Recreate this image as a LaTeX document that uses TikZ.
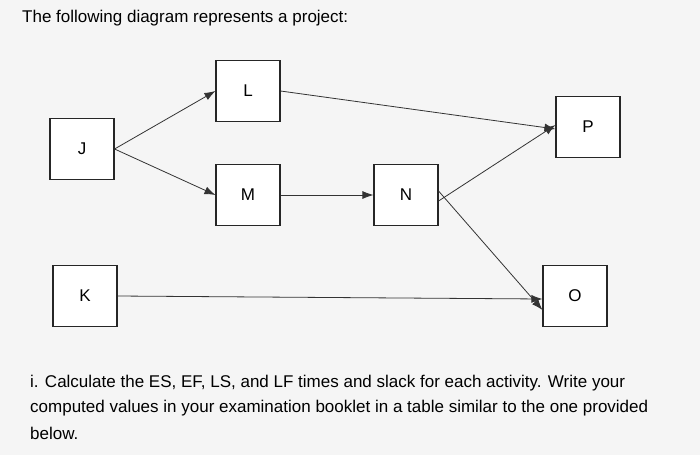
\documentclass[tikz,border=0pt]{standalone}
\usepackage{fontspec}
\setmainfont{Liberation Sans}
\usetikzlibrary{arrows.meta, positioning}
\tikzset{
  act/.style={draw=black!85, line width=1.1pt, fill=white, minimum width=64pt, minimum height=61pt, font=\fontsize{17}{20}\selectfont},
  link/.style={-{Latex[length=11pt,width=8pt]}, line width=0.8pt, draw=black!80},
  txt/.style={anchor=west, font=\fontsize{17}{20}\selectfont, inner sep=0pt}
}
\begin{document}
\begin{tikzpicture}[x=1pt,y=-1pt]
\fill[black!4] (0,0) rectangle (700,455);
\useasboundingbox (0,0) rectangle (700,455);

\node[txt] (title) at (22,18) {The following diagram represents a project:};

\node[act] (J) at (82,149) {J};
\node[act] (K) at (85,296) {K};
\node[act] (L) at (248,91) {L};
\node[act] (M) at (248,195) {M};
\node[act] (N) at (406,195) {N};
\node[act] (P) at (588,127) {P};
\node[act] (O) at (575,296) {O};

\draw[link] (J.east) -- (L.west);
\draw[link] (J.east) -- (M.west);
\draw[link] (L.east) -- ([yshift=-2pt]P.west);
\draw[link] (M.east) -- (N.west);
\draw[link] ([yshift=-6pt]N.east) -- ([yshift=2pt]P.west);
\draw[link] ([yshift=4pt]N.east) -- ([yshift=-14pt]O.west);
\draw[link] (K.east) -- ([yshift=-3pt]O.west);

\node[txt] (q1) at (30,383) {i. Calculate the ES, EF, LS, and LF times and slack for each activity. Write your};
\node[txt] (q2) at (30,408) {computed values in your examination booklet in a table similar to the one provided};
\node[txt] (q3) at (30,433) {below.};
\end{tikzpicture}
\end{document}
